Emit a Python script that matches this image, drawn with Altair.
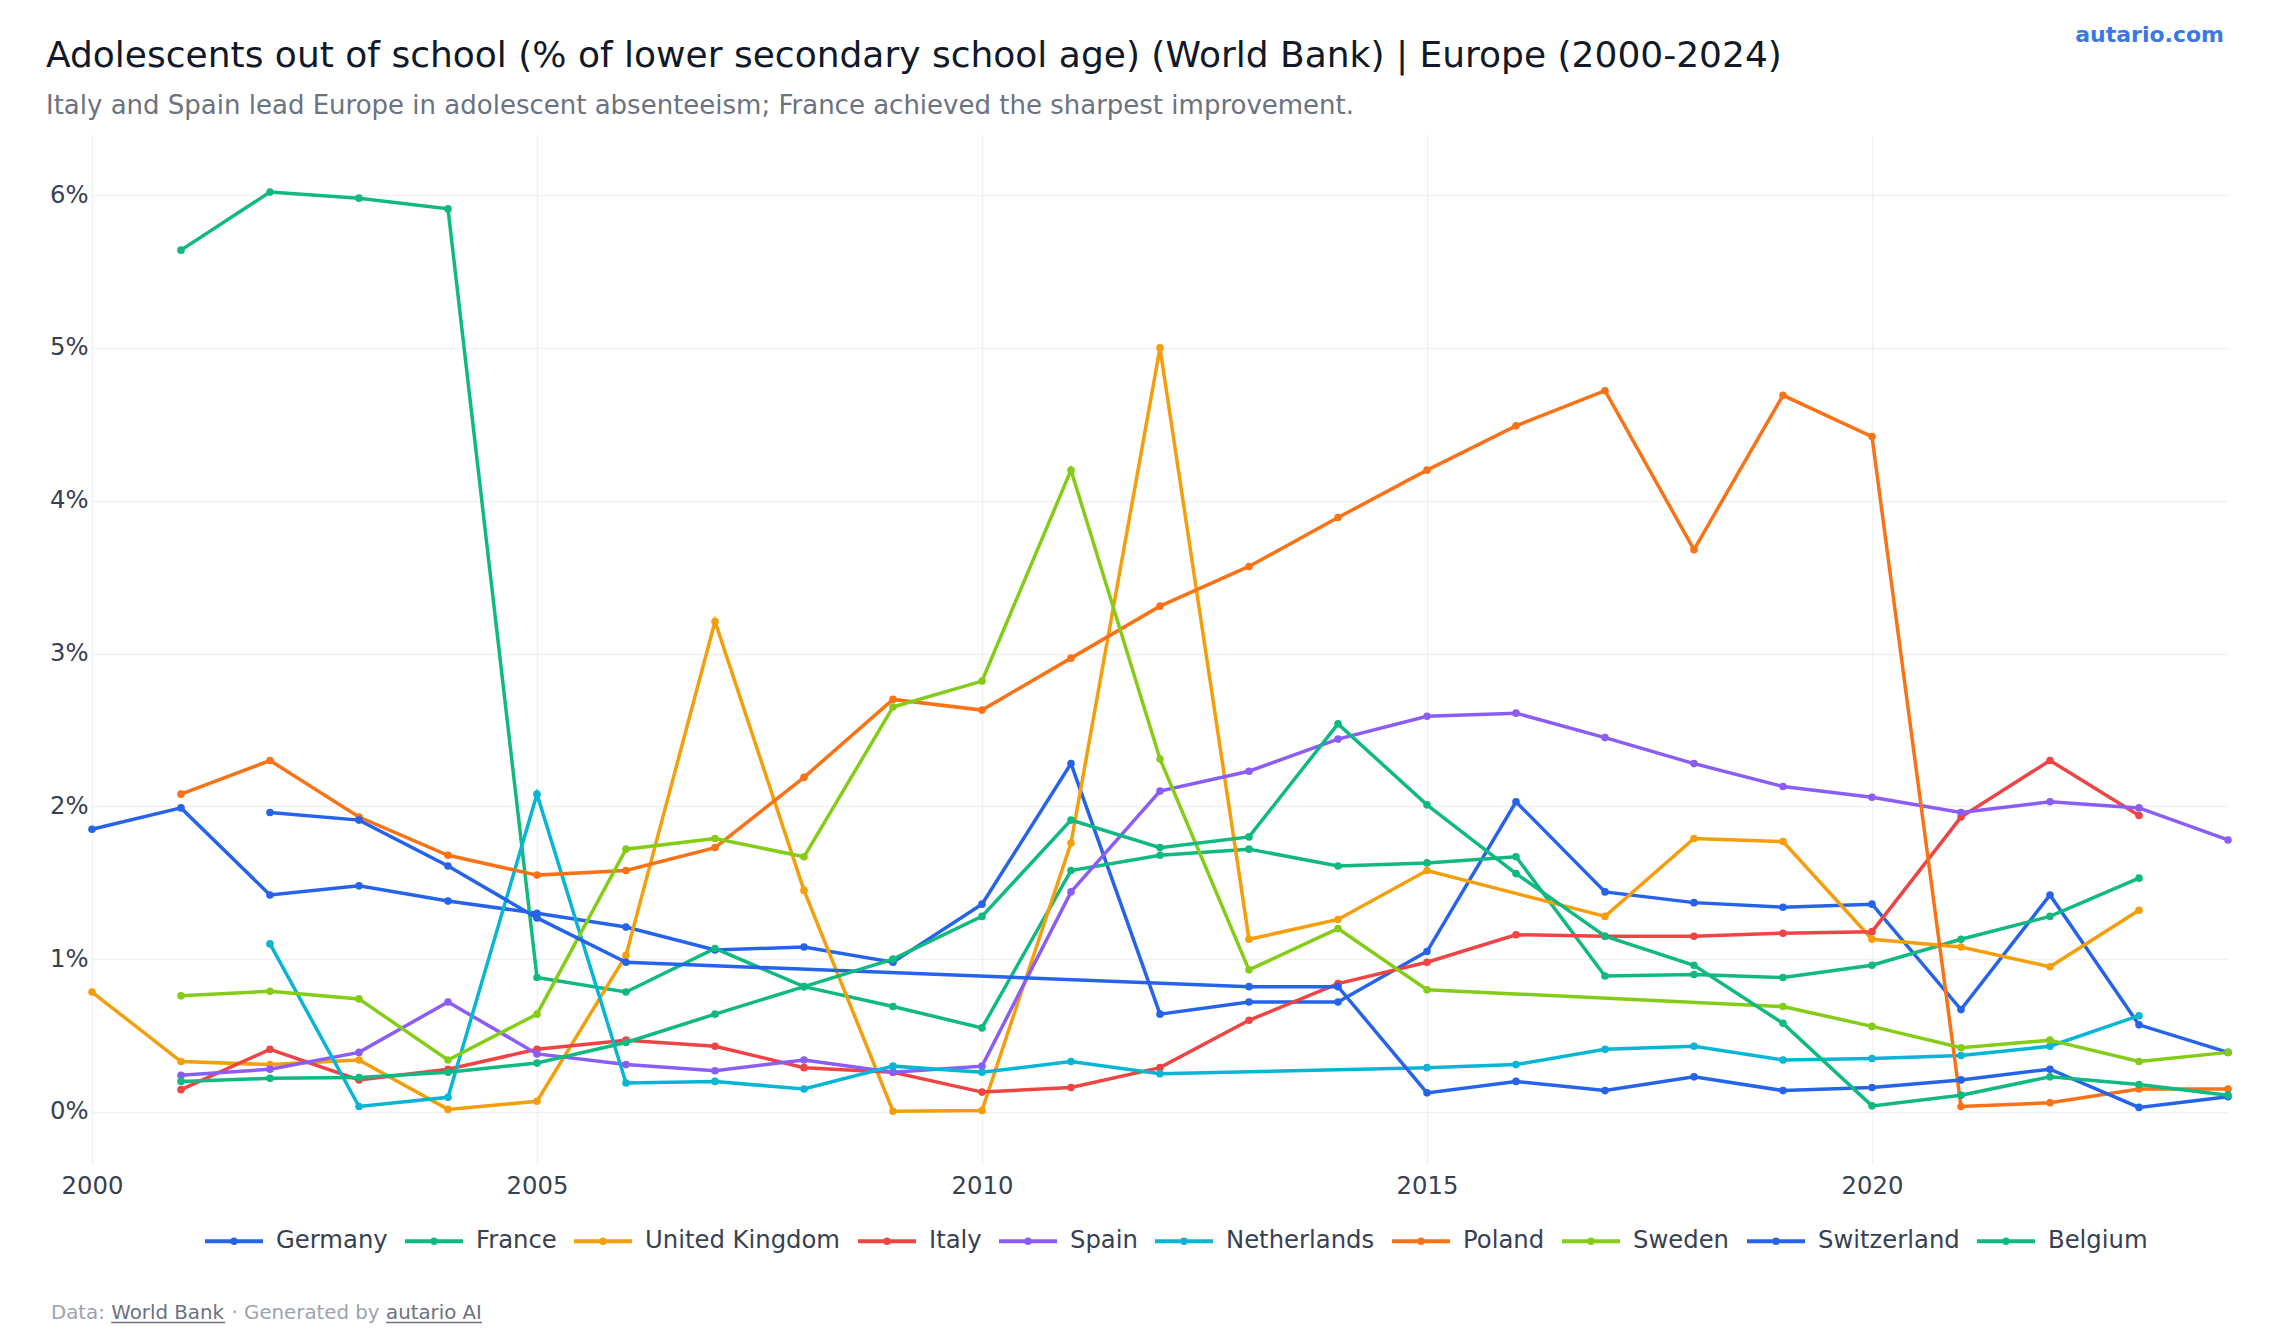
import altair as alt
import pandas as pd

# ---- data: share of lower-secondary-age adolescents out of school (%) ----
years = list(range(2000, 2025))
countries = ["Germany", "France", "United Kingdom", "Italy", "Spain",
             "Netherlands", "Poland", "Sweden", "Switzerland", "Belgium"]
palette = ["#2563eb", "#10b981", "#f59e0b", "#ef4444", "#8b5cf6",
           "#06b6d4", "#f97316", "#84cc16", "#2563eb", "#10b981"]

N = None
germany = [1.85, 1.99, 1.42, 1.48, 1.38, 1.30, 1.21, 1.06, 1.08, 0.98, 1.36, 2.28, 0.64,
           0.72, 0.72, 1.05, 2.03, 1.44, 1.37, 1.34, 1.36, 0.67, 1.42, 0.57, 0.39]
france = [N, 5.64, 6.02, 5.98, 5.91, 0.88, 0.785, 1.07, 0.82, 0.69, 0.55, 1.58, 1.68,
          1.72, 1.61, 1.63, 1.67, 0.89, 0.90, 0.88, 0.96, 1.13, 1.28, 1.53, N]
united_kingdom = [0.785, 0.33, 0.31, 0.34, 0.017, 0.07, 1.025, 3.21, 1.45, 0.005, 0.01, 1.76, 5.00,
                  1.13, 1.26, 1.58, N, 1.28, 1.79, 1.77, 1.13, 1.08, 0.95, 1.32, N]
italy = [N, 0.146, 0.41, 0.21, 0.28, 0.41, 0.47, 0.43, 0.29, 0.26, 0.13, 0.16, 0.29,
         0.60, 0.84, 0.98, 1.16, 1.15, 1.15, 1.17, 1.18, 1.93, 2.30, 1.94, N]
spain = [N, 0.24, 0.28, 0.39, 0.72, 0.38, 0.31, 0.27, 0.34, 0.26, 0.30, 1.44, 2.10,
         2.23, 2.44, 2.59, 2.61, 2.45, 2.28, 2.13, 2.06, 1.96, 2.03, 1.99, 1.78]
netherlands = [N, N, 1.10, 0.036, 0.096, 2.08, 0.19, 0.20, 0.15, 0.30, 0.26, 0.33, 0.25,
               N, N, 0.29, 0.31, 0.41, 0.43, 0.34, 0.35, 0.37, 0.43, 0.63, N]
poland = [N, 2.08, 2.30, 1.93, 1.68, 1.55, 1.58, 1.73, 2.19, 2.70, 2.63, 2.97, 3.31,
          3.57, 3.89, 4.20, 4.49, 4.72, 3.68, 4.69, 4.42, 0.036, 0.06, 0.15, 0.15]
sweden = [N, 0.76, 0.79, 0.74, 0.34, 0.64, 1.72, 1.79, 1.67, 2.65, 2.82, 4.20, 2.31,
          0.93, 1.20, 0.80, N, N, N, 0.69, 0.56, 0.42, 0.47, 0.33, 0.39]
switzerland = [N, N, 1.96, 1.91, 1.61, 1.27, 0.98, N, N, N, N, N, N,
               0.82, 0.82, 0.125, 0.20, 0.14, 0.23, 0.14, 0.16, 0.21, 0.28, 0.03, 0.10]
belgium = [N, 0.20, 0.22, 0.225, 0.26, 0.32, 0.455, 0.64, 0.82, 1.00, 1.28, 1.91, 1.73,
           1.80, 2.54, 2.01, 1.56, 1.15, 0.96, 0.58, 0.04, 0.11, 0.23, 0.18, 0.11]

series = [germany, france, united_kingdom, italy, spain,
          netherlands, poland, sweden, switzerland, belgium]

rows = []
for name, vals in zip(countries, series):
    for yr, v in zip(years, vals):
        if v is not None:
            rows.append({"country": name, "year": yr, "value": v})
df = pd.DataFrame(rows)

FONT = "DejaVu Sans"
TITLE = "Adolescents out of school (% of lower secondary school age) (World Bank) | Europe (2000-2024)"
SUBTITLE = "Italy and Spain lead Europe in adolescent absenteeism; France achieved the sharpest improvement."

# ---- page geometry (plot area inside a 2288 x 1334 canvas) ----
PAD_L, PAD_T, PLOT_W, PLOT_H = 92, 134, 2136, 1031
PAD_R = 2288 - PAD_L - PLOT_W
PAD_B = 1334 - PAD_T - PLOT_H

# legend symbol: short line with a dot in the middle
LEGEND_SYMBOL = "M-1,0H1M0.06,0A0.06,0.06,0,1,1,-0.06,0A0.06,0.06,0,1,1,0.06,0Z"

lines = alt.Chart(df).mark_line(
    strokeWidth=3.5,
    point=alt.OverlayMarkDef(filled=True, size=58, opacity=1),
).encode(
    x=alt.X("year:Q",
            scale=alt.Scale(domain=[2000, 2024], nice=False, zero=False),
            axis=alt.Axis(values=[2000, 2005, 2010, 2015, 2020], format="d", title=None,
                          labelFlush=False, labelPadding=9)),
    y=alt.Y("value:Q",
            scale=alt.Scale(domain=[-0.347, 6.4], nice=False, zero=False),
            axis=alt.Axis(values=[0, 1, 2, 3, 4, 5, 6], labelExpr="datum.value + '%'",
                          title=None, labelPadding=4)),
    color=alt.Color("country:N",
                    scale=alt.Scale(domain=countries, range=palette),
                    legend=alt.Legend(
                        title=None, orient="none", direction="horizontal", columns=10,
                        legendX=111, legendY=1076,
                        symbolType=LEGEND_SYMBOL, symbolSize=3364, symbolStrokeWidth=4,
                        labelFont=FONT, labelFontSize=24.3, labelColor="#374151",
                        labelOffset=11, columnPadding=9, labelLimit=500, padding=0)),
)


def label(txt, x, y, size, color, weight="normal", align="left", baseline="middle"):
    """A single piece of page text placed relative to the plot origin."""
    return alt.Chart(pd.DataFrame({"t": [txt]})).mark_text(
        align=align, baseline=baseline, font=FONT, fontSize=size, fontWeight=weight, color=color,
    ).encode(text="t:N", x=alt.value(x - PAD_L), y=alt.value(y - PAD_T))


# heading block
title = label(TITLE, 46, 56, 36, "#111827")
subtitle = label(SUBTITLE, 46, 106, 26, "#6b7280")
brand = label("autario.com", 2224, 35, 22, "#3b78e7", weight="bold", align="right")

# footer: source line with underlined link words
CHAR_W = {" ": 0.318, ".": 0.318, ":": 0.337, "·": 0.318, "A": 0.684, "B": 0.686,
          "D": 0.770, "G": 0.775, "I": 0.295, "W": 0.989, "a": 0.613, "b": 0.635,
          "d": 0.635, "e": 0.615, "i": 0.278, "k": 0.579, "l": 0.278, "n": 0.634,
          "o": 0.612, "r": 0.411, "t": 0.392, "u": 0.634, "y": 0.592}
FOOT_SIZE = 19.8


def text_width(s):
    return sum(CHAR_W.get(c, 0.6) for c in s) * FOOT_SIZE


foot_parts = [("Data:", "#9ca3af", False), ("World Bank", "#6b7280", True),
              ("· Generated by", "#9ca3af", False), ("autario AI", "#6b7280", True)]
foot_x = 51.0
foot_base = 1319
footer_layers = []
for txt, col, underline in foot_parts:
    w = text_width(txt)
    footer_layers.append(label(txt, foot_x, foot_base, FOOT_SIZE, col, baseline="alphabetic"))
    if underline:
        footer_layers.append(
            alt.Chart(pd.DataFrame({"t": [txt]})).mark_rule(color=col, strokeWidth=1.5).encode(
                x=alt.value(foot_x - PAD_L), x2=alt.value(foot_x + w - PAD_L),
                y=alt.value(foot_base + 3.5 - PAD_T))
        )
    foot_x += w + text_width(" ")

chart = alt.layer(lines, title, subtitle, brand, *footer_layers).properties(
    width=PLOT_W, height=PLOT_H,
    padding={"left": PAD_L, "top": PAD_T, "right": PAD_R, "bottom": PAD_B},
    autosize=alt.AutoSizeParams(type="none"),
    background="white",
).configure_view(stroke=None).configure_axis(
    domain=False, ticks=False, grid=True, gridColor="#f1f1f1", gridWidth=1.5,
    labelFont=FONT, labelFontSize=24.3, labelColor="#374151",
)

chart.save("out.html", embed_options={"renderer": "svg", "actions": False})
